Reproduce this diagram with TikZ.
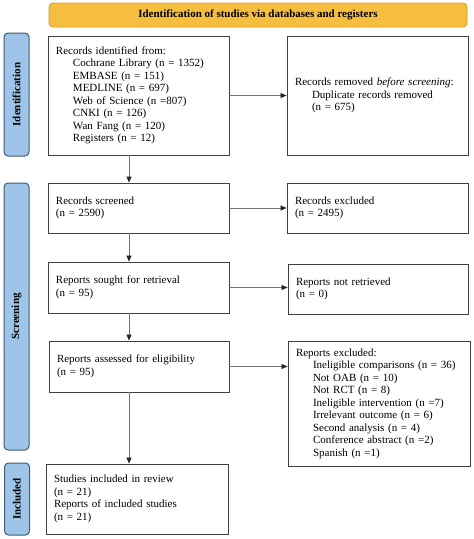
\documentclass[tikz,border=0pt]{standalone}
\usepackage{fontspec}
\setmainfont{Liberation Serif}
\usetikzlibrary{arrows.meta}
\definecolor{bannerfill}{HTML}{F6BE3F}
\definecolor{bannerline}{HTML}{D99A1E}
\definecolor{sidefill}{HTML}{9EC5E8}
\definecolor{sideline}{HTML}{3E5C7A}
\tikzstyle{box}=[draw=black!75,line width=0.9pt,fill=white,inner xsep=8pt,inner ysep=4pt,align=left,font=\fontsize{11}{12.5}\selectfont]
\tikzstyle{sidelabel}=[draw=sideline,fill=sidefill,line width=1pt,rounded corners=4pt,rotate=90,minimum height=25pt,inner sep=0pt,font=\fontsize{11}{12.5}\selectfont\bfseries]
\tikzstyle{banner}=[draw=bannerline,fill=bannerfill,line width=0.8pt,rounded corners=4pt,minimum width=418pt,minimum height=24pt,font=\fontsize{11}{12.5}\selectfont\bfseries]
\tikzstyle{flow}=[draw=black!55,line width=0.7pt,-{Triangle[length=6pt,width=5pt,color=black!85]}]
\newcommand{\ind}{\hspace*{17pt}}

\begin{document}
\begin{tikzpicture}[x=1pt,y=-1pt]
\useasboundingbox (0,0) rectangle (474,539);

\node[banner] (banner) at (258, 15) {Identification of studies via databases and registers};

\node[sidelabel,minimum width=123pt] (idlab)  at (16.5, 94.5)  {Identification};
\node[sidelabel,minimum width=267pt] (scrlab) at (16.5, 316.5) {Screening};
\node[sidelabel,minimum width=72pt]  (inclab) at (17, 499)     {Included};

\node[box,text width=165pt,minimum height=119pt] (ident) at (138.5, 95.5)
  {Records identified from:\\\ind Cochrane Library (n = 1352)\\\ind EMBASE (n = 151)\\\ind MEDLINE (n = 697)\\\ind Web of Science (n =807)\\\ind CNKI (n = 126)\\\ind Wan Fang (n = 120)\\\ind Registers (n = 12)};
\node[box,text width=165pt,minimum height=119pt] (removed) at (377.5, 95.5)
  {Records removed \textit{before screening}:\\\ind Duplicate records removed\\\ind (n = 675)};

\node[box,text width=165pt,minimum height=50pt] (screened) at (138.5, 208)
  {Records screened\\(n = 2590)};
\node[box,text width=165pt,minimum height=50pt] (excluded) at (377.5, 208)
  {Records excluded\\(n = 2495)};

\node[box,text width=165pt,minimum height=51pt] (sought) at (138.5, 287.5)
  {Reports sought for retrieval\\(n = 95)};
\node[box,text width=164pt,minimum height=50pt] (notretr) at (378, 289)
  {Reports not retrieved\\(n = 0)};

\node[box,text width=164pt,minimum height=51pt] (assessed) at (139, 366.5)
  {Reports assessed for eligibility\\(n = 95)};
\node[box,text width=166pt,minimum height=125pt] (reportsexcl) at (379, 403.5)
  {Reports excluded:\\\ind Ineligible comparisons (n = 36)\\\ind Not OAB (n = 10)\\\ind Not RCT (n = 8)\\\ind Ineligible intervention (n =7)\\\ind Irrelevant outcome (n = 6)\\\ind Second analysis (n = 4)\\\ind Conference abstract (n =2)\\\ind Spanish (n =1)};

\node[box,text width=166pt,minimum height=70pt] (included) at (137, 499)
  {Studies included in review\\(n = 21)\\Reports of included studies\\(n = 21)};

\draw[flow] (ident.east) -- (removed.west);
\draw[flow] (screened.east) -- (excluded.west);
\draw[flow] (sought.east) -- (sought.east -| notretr.west);
\draw[flow] (assessed.east) -- (assessed.east -| reportsexcl.west);

\draw[flow] ([xshift=-9.5pt]ident.south) -- ([xshift=-9.5pt]ident.south |- screened.north);
\draw[flow] ([xshift=-9.5pt]screened.south) -- ([xshift=-9.5pt]screened.south |- sought.north);
\draw[flow] ([xshift=-9.5pt]sought.south) -- ([xshift=-9.5pt]sought.south |- assessed.north);
\draw[flow] ([xshift=-10pt]assessed.south) -- ([xshift=-10pt]assessed.south |- included.north);

\end{tikzpicture}
\end{document}
